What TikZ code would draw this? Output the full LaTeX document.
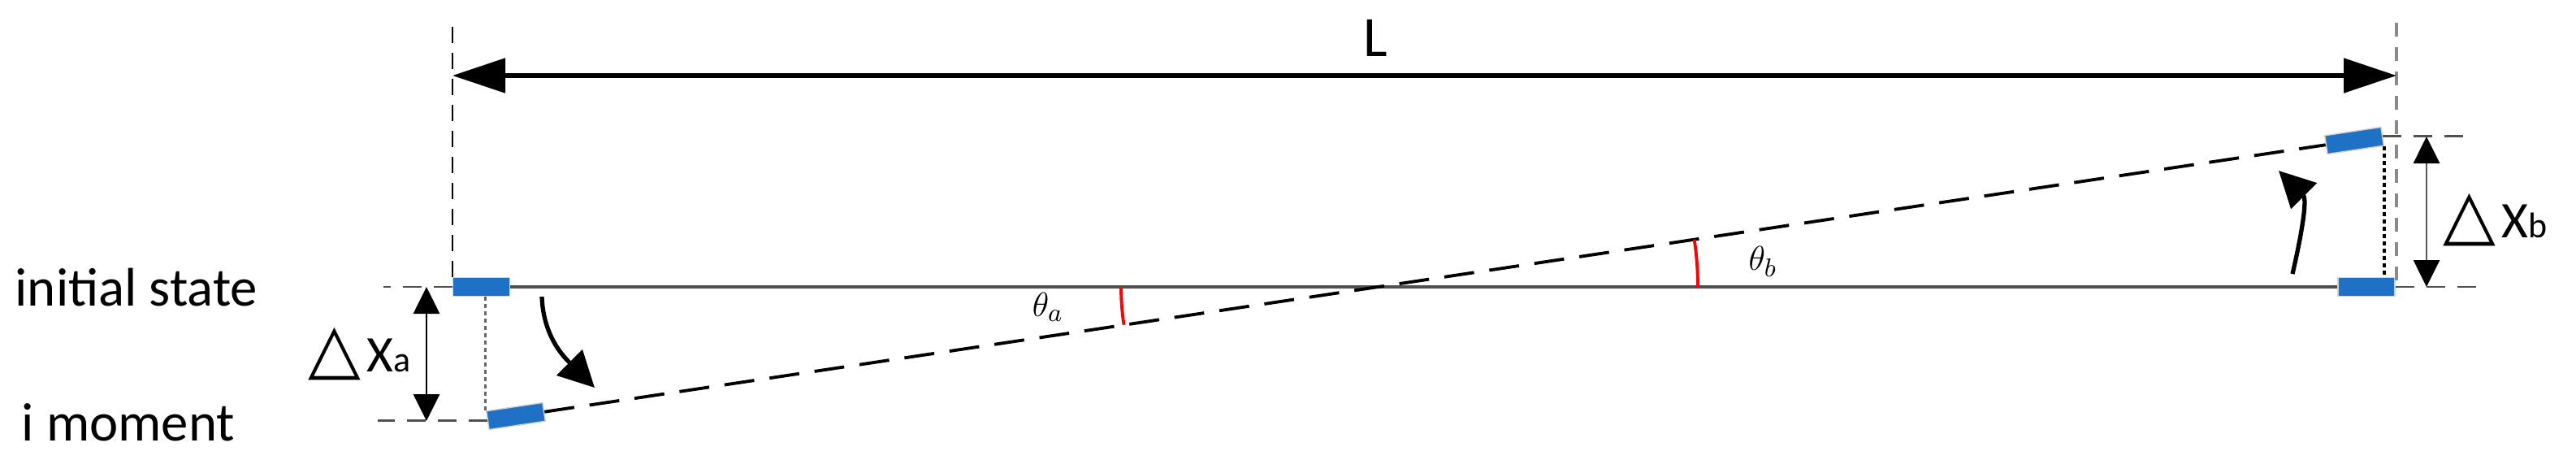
\documentclass[tikz,border=0pt]{standalone}
\usepackage{fontspec}
\setmainfont{Carlito}
\newfontfamily\symfont{DejaVu Sans}
\usetikzlibrary{arrows.meta,positioning,calc}
\definecolor{BlockBlue}{HTML}{1F71C5}
\definecolor{LineGray}{HTML}{505050}
\definecolor{GuideGray}{HTML}{8A8A8A}

% delta label: triangle, X and a small index letter
\newcommand{\dlabel}[1]{{\symfont\fontsize{24}{24}\selectfont △}\kern2pt{\fontsize{18}{18}\selectfont X}{\fontsize{12.5}{13}\selectfont #1}}

\begin{document}
\begin{tikzpicture}[
        blk/.style={rectangle, fill=BlockBlue, draw=gray!35, line width=0.4pt, minimum width=0.7cm, minimum height=0.23cm, inner sep=0pt},
        stateline/.style={LineGray, line width=1.1pt},
        incline/.style={black, line width=1.1pt, dash pattern=on 0.37cm off 0.19cm},
        refdash/.style={LineGray, line width=0.8pt, dash pattern=on 0.23cm off 0.15cm},
        guide/.style={line width=0.6pt, dash pattern=on 0.2cm off 0.12cm},
        dotline/.style={black, line width=1pt, dash pattern=on 0.05cm off 0.04cm},
        lenarrow/.style={{Triangle[length=6.5mm,width=4.2mm]}-{Triangle[length=6.5mm,width=4.2mm]}, line width=1.5pt},
        dimarrow/.style={{Triangle[length=3.3mm,width=3.2mm,color=black]}-{Triangle[length=3.3mm,width=3.2mm,color=black]}, line width=0.8pt},
        turnarrow/.style={-{Triangle[length=4.4mm,width=4.4mm]}, line width=1.5pt},
        anglearc/.style={red, line width=1.1pt},
        txt/.style={font=\fontsize{19}{22}\selectfont, inner sep=0pt}]

        \useasboundingbox (0,0) rectangle (31.71,-5.65);

        % sensor blocks
        \node[blk] (a0) at (5.925,-3.53) {};
        \node[blk, rotate=8.5] (a1) at (6.35,-5.12) {};
        \node[blk] (b0) at (29.13,-3.53) {};
        \node[blk, rotate=8.5] (b1) at (28.98,-1.73) {};

        \coordinate (la) at (5.57,-0.33);
        \coordinate (rb) at (29.50,-0.28);
        \coordinate (pv) at (16.96,-3.53);

        % vertical guides and length L
        \draw[guide, black] (la) -- (la |- a0.north);
        \draw[guide, GuideGray, line width=1.4pt, dash pattern=on 0.17cm off 0.13cm] (rb) -- (rb |- b0.center);
        \draw[lenarrow] (la |- 0,-0.93) -- (rb |- 0,-0.93);
        \node[font=\fontsize{20}{24}\selectfont, inner sep=0pt] (L) at (16.93,-0.47) {L};

        % initial state and i moment
        \draw[stateline] (a0.east) -- (b0.west);
        \draw[incline] (a1.east) -- (b1.west);
        \draw[refdash] (a0.west) -- ++(-0.85,0);
        \draw[refdash] (a1.west) -- ++(-1.35,0);
        \draw[refdash] (b0.east) -- ++(1.02,0);
        \draw[refdash] (b1.east) -- ++(1.0,0);
        \draw[dotline, gray!80!black, line width=0.8pt] (a1.north west) -- (a1.north west |- a0.south);
        \draw[dotline] (b1.south east) -- (b1.south east |- b0.north);

        \node[txt, anchor=base west] (init) at (0.18,-3.76) {initial state};
        \node[txt, anchor=base west] (mom) at (0.26,-5.42) {i moment};

        % displacements
        \coordinate (xa1) at (5.25,-3.53);
        \coordinate (xa2) at (5.25,-5.18);
        \draw[dimarrow, black] (xa1) -- (xa2);
        \node[inner sep=0pt, anchor=base east] (dxa) at (5.06,-4.57) {\dlabel{a}};

        \coordinate (xb1) at (29.87,-1.68);
        \coordinate (xb2) at (29.87,-3.53);
        \draw[dimarrow, gray!70!black] (xb1) -- (xb2);
        \node[inner sep=0pt, anchor=base west] (dxb) at (30.07,-2.92) {\dlabel{b}};

        % rotation arrows
        \coordinate (ta1) at (6.67,-3.65);
        \coordinate (ta2) at (7.32,-4.77);
        \draw[turnarrow] (ta1) to[out=-88, in=135] (ta2);
        \coordinate (tb1) at (28.22,-3.37);
        \coordinate (tb2) at (28.05,-2.10);
        \draw[turnarrow] (tb1) to[out=77, in=-45] (tb2);

        % angles
        \draw[anglearc] ($(pv)+(180:3.16)$) arc[start angle=180, end angle=188.5, radius=3.16];
        \draw[anglearc] ($(pv)+(0:3.94)$) arc[start angle=0, end angle=8.5, radius=3.94];
        \node[font=\fontsize{13}{15}\selectfont, inner sep=0pt] (tha) at (12.90,-3.78) {$\theta_a$};
        \node[font=\fontsize{13}{15}\selectfont, inner sep=0pt] (thb) at (21.70,-3.22) {$\theta_b$};
\end{tikzpicture}
\end{document}
